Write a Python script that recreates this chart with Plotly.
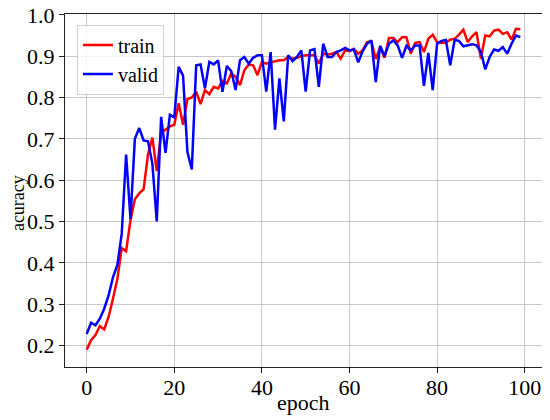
import plotly.graph_objects as go

epoch = list(range(100))

train = [0.190, 0.213, 0.225, 0.247, 0.239, 0.269, 0.313, 0.361, 0.436, 0.428,
         0.503, 0.554, 0.568, 0.578, 0.662, 0.703, 0.622, 0.714, 0.722, 0.730,
         0.734, 0.786, 0.734, 0.796, 0.800, 0.814, 0.784, 0.818, 0.808, 0.826,
         0.822, 0.840, 0.834, 0.858, 0.850, 0.830, 0.866, 0.880, 0.878, 0.854,
         0.886, 0.882, 0.885, 0.888, 0.890, 0.890, 0.898, 0.894, 0.896, 0.900,
         0.902, 0.902, 0.902, 0.882, 0.906, 0.904, 0.906, 0.910, 0.894, 0.914,
         0.912, 0.918, 0.906, 0.914, 0.934, 0.936, 0.893, 0.922, 0.896, 0.944,
         0.944, 0.934, 0.946, 0.946, 0.906, 0.932, 0.934, 0.910, 0.942, 0.952,
         0.934, 0.932, 0.933, 0.940, 0.942, 0.952, 0.964, 0.934, 0.948, 0.958,
         0.894, 0.950, 0.948, 0.962, 0.964, 0.954, 0.958, 0.940, 0.966, 0.965]

valid = [0.228, 0.255, 0.249, 0.265, 0.289, 0.321, 0.365, 0.395, 0.470, 0.662,
         0.506, 0.700, 0.726, 0.696, 0.694, 0.640, 0.500, 0.753, 0.666, 0.758,
         0.752, 0.874, 0.853, 0.668, 0.626, 0.878, 0.880, 0.822, 0.886, 0.880,
         0.890, 0.814, 0.876, 0.864, 0.818, 0.890, 0.898, 0.882, 0.896, 0.902,
         0.902, 0.814, 0.910, 0.722, 0.846, 0.742, 0.902, 0.888, 0.898, 0.914,
         0.814, 0.914, 0.917, 0.826, 0.930, 0.898, 0.898, 0.910, 0.914, 0.920,
         0.914, 0.916, 0.885, 0.912, 0.930, 0.938, 0.837, 0.925, 0.900, 0.930,
         0.938, 0.926, 0.896, 0.925, 0.914, 0.926, 0.926, 0.828, 0.908, 0.818,
         0.930, 0.937, 0.939, 0.878, 0.939, 0.937, 0.924, 0.926, 0.929, 0.926,
         0.910, 0.868, 0.898, 0.916, 0.913, 0.922, 0.906, 0.930, 0.950, 0.946]

x_ticks = [0, 20, 40, 60, 80, 100]
y_ticks = [0.2, 0.3, 0.4, 0.5, 0.6, 0.7, 0.8, 0.9, 1.0]

FONT = "Liberation Serif"
FS = 22

fig = go.Figure()
fig.add_trace(go.Scatter(x=epoch, y=train, mode="lines", name="train",
                         line=dict(color="#ff0000", width=2.5)))
fig.add_trace(go.Scatter(x=epoch, y=valid, mode="lines", name="valid",
                         line=dict(color="#0000ff", width=2.5)))

axis_style = dict(
    showline=True, linecolor="#222222", linewidth=1, mirror=True,
    ticks="outside", ticklen=5, tickcolor="#222222",
    showgrid=True, gridcolor="#c8c8c8", gridwidth=1,
    zeroline=False, automargin=False, ticklabeloverflow="allow",
    tickfont=dict(family=FONT, size=FS, color="black"),
)

fig.update_xaxes(range=[-4.95, 103.95], tickvals=x_ticks, ticklabelstandoff=-4, **axis_style)
fig.update_yaxes(range=[0.148, 1.002], tickvals=y_ticks, tickformat=".1f", **axis_style)

# axis titles as annotations so they sit where the reference has them
fig.add_annotation(text="epoch", x=0.5, y=-0.101, xref="paper", yref="paper",
                   xanchor="center", yanchor="middle", showarrow=False,
                   font=dict(family=FONT, size=FS, color="black"))
fig.add_annotation(text="acuracy", x=-0.098, y=0.465, xref="paper", yref="paper",
                   xanchor="center", yanchor="middle", showarrow=False, textangle=-90,
                   font=dict(family=FONT, size=18, color="black"))

# the page adds an 8px body margin, so the figure is 8px smaller than the window
fig.update_layout(
    width=542, height=412,
    margin=dict(l=57, r=8, t=6, b=53),
    plot_bgcolor="white", paper_bgcolor="white",
    font=dict(family=FONT, size=FS, color="black"),
    showlegend=True,
    legend=dict(x=0.025, y=0.97, xanchor="left", yanchor="top",
                bgcolor="rgba(255,255,255,0.8)", bordercolor="#d0d0d0", borderwidth=1,
                font=dict(family=FONT, size=20, color="black"),
                tracegroupgap=0, itemwidth=30),
)

fig.write_html("out.html")
